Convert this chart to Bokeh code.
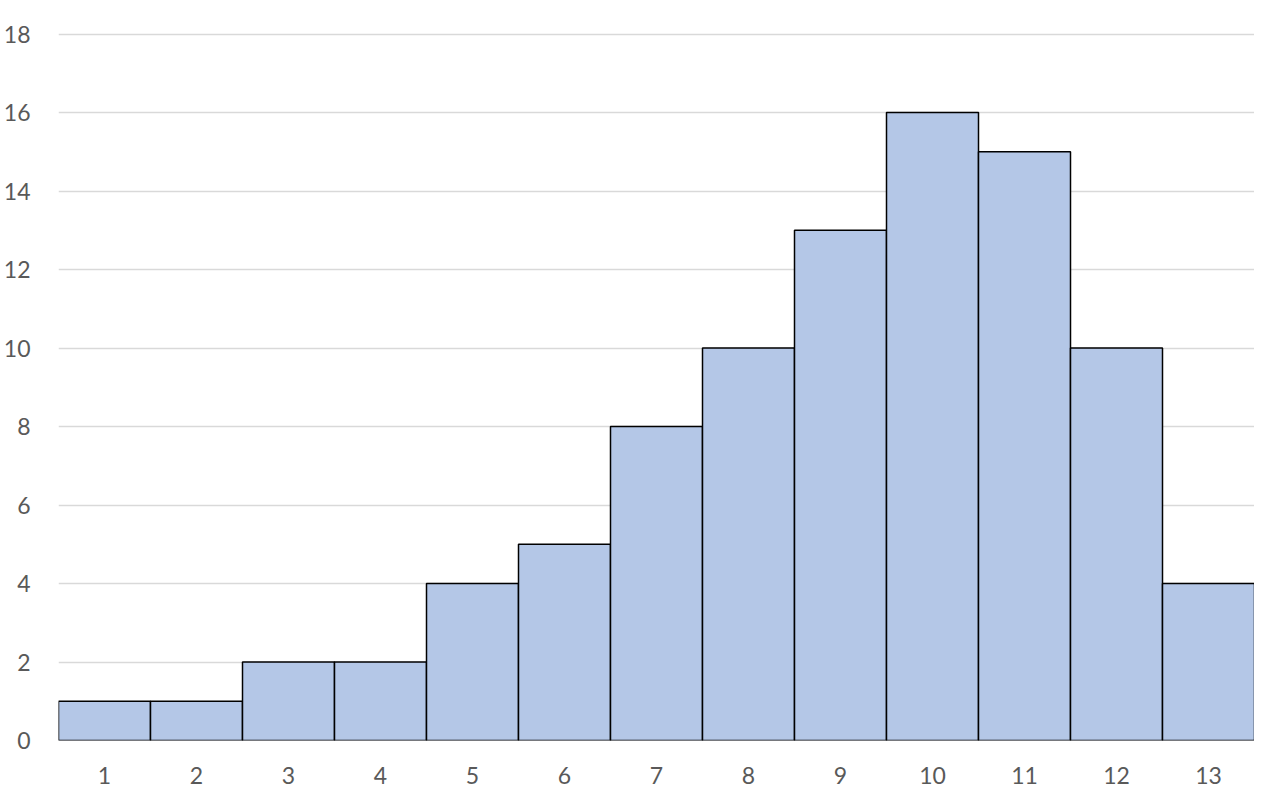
from bokeh.plotting import figure
from bokeh.models import FixedTicker, Range1d
from bokeh.embed import file_html
from bokeh.resources import INLINE

bins = [1, 2, 3, 4, 5, 6, 7, 8, 9, 10, 11, 12, 13]
counts = [1, 1, 2, 2, 4, 5, 8, 10, 13, 16, 15, 10, 4]
y_ticks = [0, 2, 4, 6, 8, 10, 12, 14, 16, 18]

p = figure(frame_width=1196, frame_height=708, output_backend="svg",
           toolbar_location=None, x_range=Range1d(0.5, 13.5), y_range=Range1d(0, 18.04),
           min_border_left=52, min_border_top=32, min_border_bottom=48, min_border_right=0)

p.vbar(x=bins, top=counts, width=1.0, fill_color="#B4C7E7", line_color="black", line_width=1.5)

p.outline_line_color = None
p.xgrid.grid_line_color = None
p.ygrid.grid_line_color = "#D9D9D9"
p.ygrid.grid_line_width = 1.5
p.ygrid.level = "underlay"

p.xaxis.ticker = FixedTicker(ticks=bins)
p.yaxis.ticker = FixedTicker(ticks=y_ticks)
for ax in (p.xaxis, p.yaxis):
    ax.axis_line_color = None
    ax.major_tick_line_color = None
    ax.minor_tick_line_color = None
    ax.major_label_text_color = "#595959"
    ax.major_label_text_font = "Lato"
    ax.major_label_text_font_size = "23px"
p.xaxis.major_label_standoff = 20
p.yaxis.major_label_standoff = 22

open("out.html", "w").write(file_html(p, INLINE))
